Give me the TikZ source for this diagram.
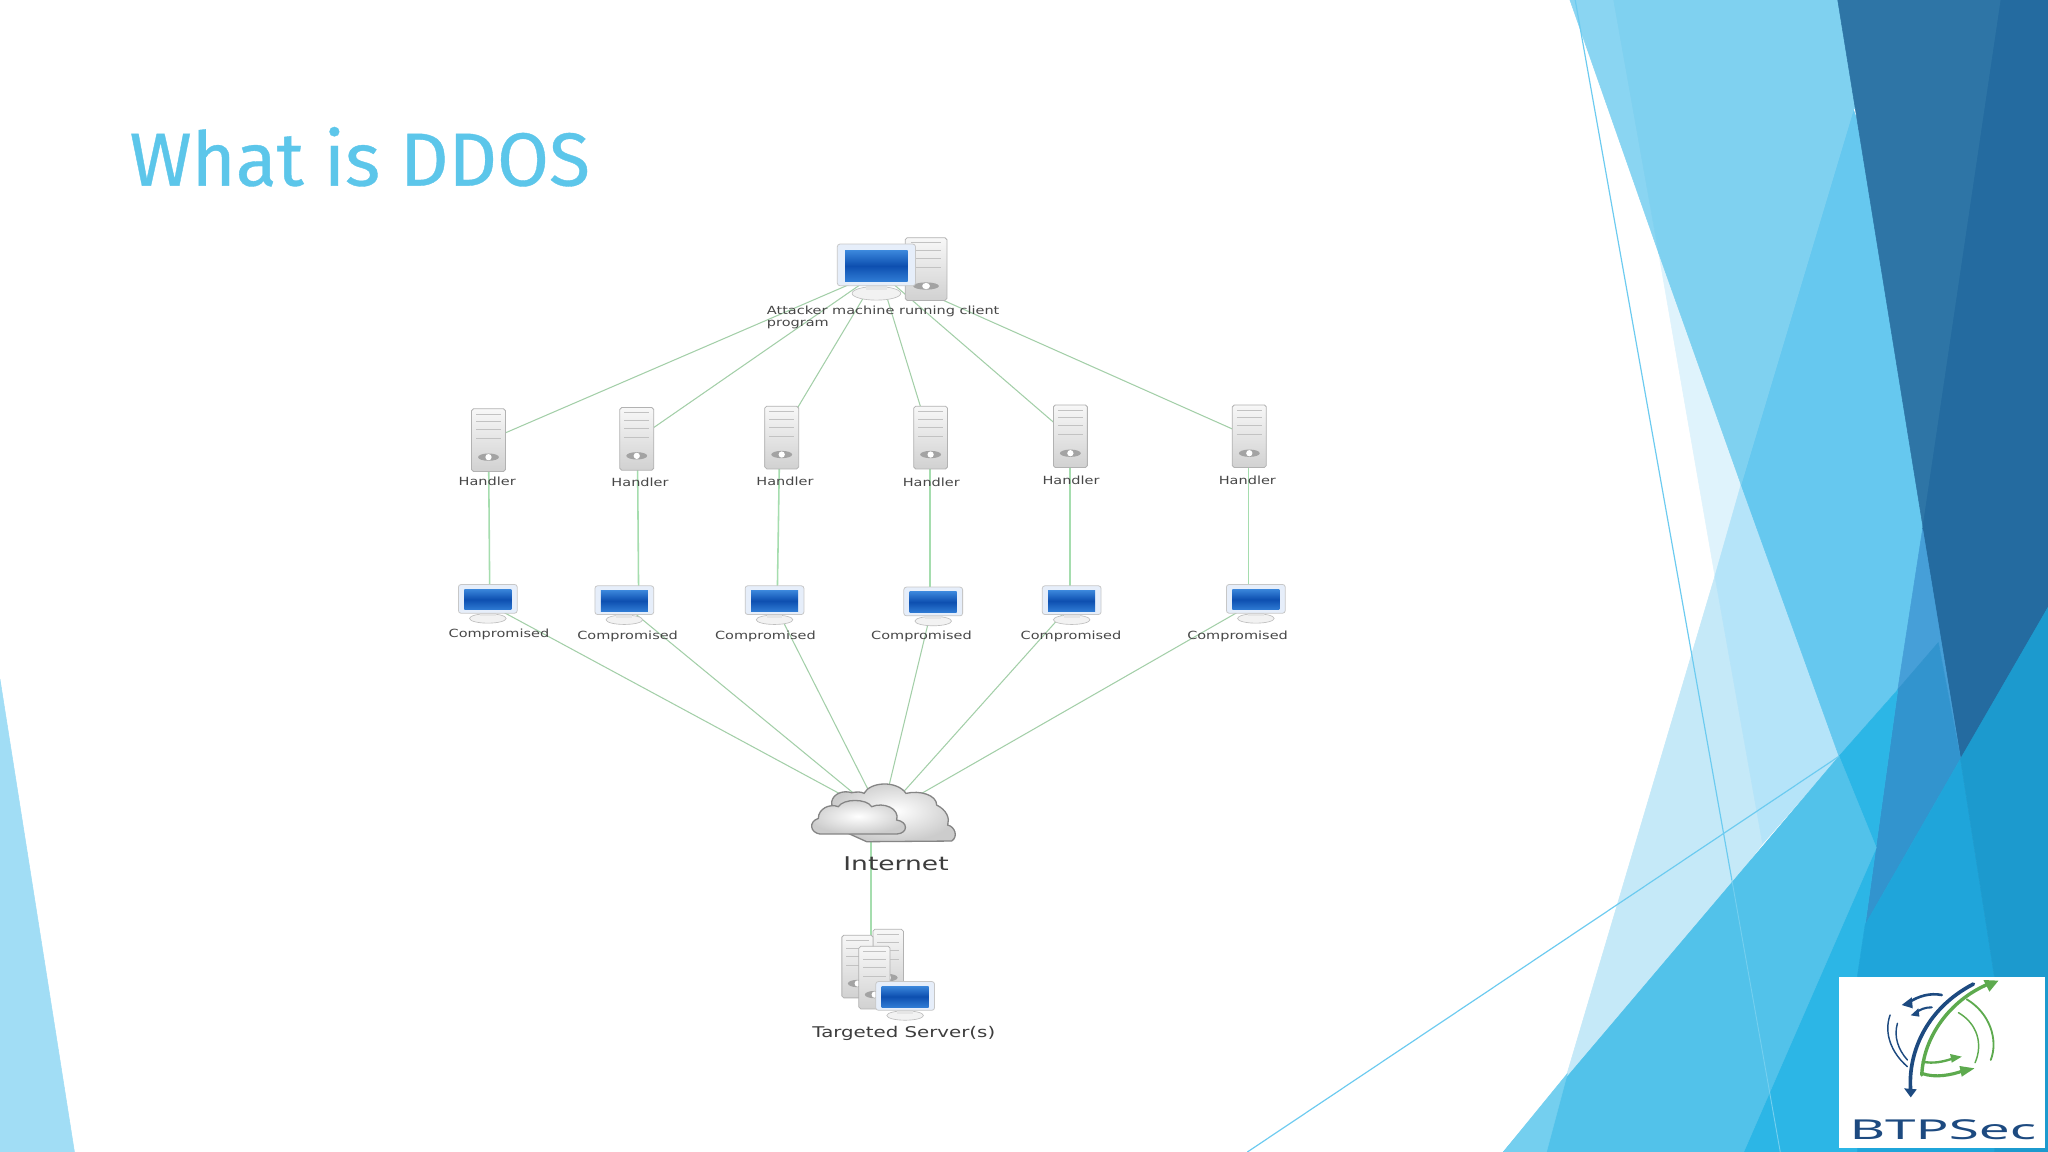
\documentclass[tikz,border=0pt]{standalone}
\usepackage{fontspec}
\usepackage{graphicx}
\usetikzlibrary{arrows.meta}
\setmainfont{DejaVu Sans}
\newfontfamily\titlefont[FakeBold=0.5]{Fira Sans}
\newfontfamily\logofont{Noto Sans}
\definecolor{wedgeA}{HTML}{7FD1F0}
\definecolor{wedgeB}{HTML}{8AD5F2}
\definecolor{wedgeC}{HTML}{66C8EF}
\definecolor{wedgeD}{HTML}{C5E9F8}
\definecolor{wedgeE}{HTML}{B5E4F9}
\definecolor{wedgeF}{HTML}{DFF3FC}
\definecolor{darkA}{HTML}{2E75A6}
\definecolor{darkB}{HTML}{246BA0}
\definecolor{midA}{HTML}{469FD8}
\definecolor{midB}{HTML}{3294CE}
\definecolor{lowA}{HTML}{52C2EA}
\definecolor{lowB}{HTML}{2CB6E6}
\definecolor{lowC}{HTML}{74CFEF}
\definecolor{lowD}{HTML}{1FA5DA}
\definecolor{lowE}{HTML}{1C9ACE}
\definecolor{thinblue}{HTML}{6CCBF0}
\definecolor{titleblue}{HTML}{5CC6EA}
\definecolor{linkgreen}{HTML}{A5DDAE}
\definecolor{linkdiag}{HTML}{A3CFA8}
\definecolor{logoblue}{HTML}{1D4A80}
\definecolor{logogreen}{HTML}{5DAA4E}
\definecolor{scrtop}{HTML}{3A86DB}
\definecolor{scrmid}{HTML}{0D4FB0}
\definecolor{scrbot}{HTML}{2F7BD4}
\definecolor{framefill}{HTML}{E6EEFA}
\newcommand{\lb}[1]{\scalebox{1.29}[1]{#1}}
\tikzset{
  facet/.style={fill=#1,draw=#1,line width=.4pt,line join=round},
  lab/.style={text=black!72,inner sep=0pt,font=\fontsize{8.6}{9.2}\selectfont},
  vlink/.style={draw=linkgreen,line width=1.2pt},
  dlink/.style={draw=linkdiag,line width=.8pt},
  thin line/.style={draw=thinblue,line width=.9pt},
  bluearc/.style={draw=logoblue,line cap=round},
  greenarc/.style={draw=logogreen,line cap=round},
  cloudfill/.style={draw=black!48,line width=1pt,inner color=white,outer color=black!20},
  monitorpic/.pic={
    \draw[draw=black!25,fill=black!5,line width=.5pt] (0,13.5) ellipse (14pt and 3.6pt);
    \fill[black!10] (-6,9) rectangle (6,12);
    \draw[draw=black!22,fill=framefill,rounded corners=2pt,line width=.6pt] (-22.5,-12.5) rectangle (22.5,9.5);
    \shade[top color=scrtop,bottom color=scrbot,middle color=scrmid] (-18,-9) rectangle (18,7);
  },
  towerpic/.pic={
    \draw[draw=black!30,top color=black!3,bottom color=black!18,rounded corners=1.5pt,line width=.6pt] (-13,-24) rectangle (13,24);
    \foreach \yy in {-20,-14,-8,-1}{\draw[black!24,line width=.8pt] (-9.5,\yy) -- (9.5,\yy);}
    \fill[black!36] (0,13) ellipse (8pt and 2.8pt);
    \fill[white] (0,13) circle (2.4pt);
  },
}
\begin{document}
\begin{tikzpicture}[x=1pt,y=-1pt]
\useasboundingbox (0,0) rectangle (1568,882);
\fill[white] (0,0) rectangle (1568,882);
% facets
\path[facet=wedgeB!80!white] (0,520) -- (0,882) -- (57,882) -- cycle;
\path[facet=wedgeF] (1270,194) -- (1333,371) -- (1313,441) -- cycle;
\path[facet=wedgeD] (1313,441) -- (1190,855) -- (1349.5,646) -- cycle;
\path[facet=wedgeE] (1333,371) -- (1313,441) -- (1349.5,646) -- (1408,579) -- cycle;
\path[facet=wedgeC] (1419,84) -- (1333,371) -- (1408,579) -- (1484,492) -- (1501,560) -- (1500,300) -- cycle;
\path[facet=wedgeB] (1202,0) -- (1236,0) -- (1270,194) -- cycle;
\path[facet=wedgeA] (1235.5,0) -- (1440,0) -- (1440,60) -- (1419,84) -- (1333,371) -- (1270,194) -- cycle;
\path[facet=darkA] (1407,0) -- (1568,0) -- (1568,465) -- (1501,581) -- cycle;
\path[facet=darkB] (1532,0) -- (1568,0) -- (1568,465) -- (1501,581) -- (1472,405) -- cycle;
\path[facet=midA] (1472,405) -- (1501,581) -- (1484,492) -- (1453,528) -- cycle;
\path[facet=midB] (1453,528) -- (1484,492) -- (1501,581) -- (1428,708) -- cycle;
\path[facet=lowB] (1408,579) -- (1453,528) -- (1428,708) -- (1422,748) -- (1422,882) -- (1335,882) -- cycle;
\path[facet=lowA] (1408,579) -- (1151,882) -- (1335,882) -- (1436.5,649) -- cycle;
\path[facet=lowC] (1151,882) -- (1184,882) -- (1200,822) -- cycle;
\path[facet=lowD] (1428,708) -- (1501,581) -- (1527,748) -- (1527,882) -- (1422,882) -- (1422,748) -- cycle;
\path[facet=lowE] (1501,581) -- (1568,465) -- (1568,882) -- (1527,882) -- (1527,748) -- cycle;
\coordinate (ta) at (1206,0);
\coordinate (tm) at (1326,674);
\coordinate (tb) at (1363,882);
\coordinate (tc) at (955,882);
\coordinate (td) at (1408,579);
\draw[thin line] (ta) -- (tm);
\draw[draw=lowC,line width=.7pt] (tm) -- (tb);
\draw[thin line] (tc) -- (td);
% title
\node[text=titleblue,anchor=west,inner sep=0pt,font=\titlefont\fontsize{57.6}{62}\selectfont] (title) at (99,120) {What is DDOS};
% graph anchors
\coordinate (attacker) at (673,208);
\coordinate (h1) at (374,337);
\coordinate (h2) at (488,336);
\coordinate (h3) at (597,335);
\coordinate (h4) at (712,335);
\coordinate (h5) at (819,334);
\coordinate (h6) at (956,334);
\coordinate (c1) at (375,462);
\coordinate (c2) at (489,463);
\coordinate (c3) at (595,463);
\coordinate (c4) at (712,463);
\coordinate (c5) at (819,463);
\coordinate (c6) at (956,461);
\coordinate (d1) at (373,462);
\coordinate (d2) at (478,463);
\coordinate (d3) at (593,463);
\coordinate (d4) at (714,463);
\coordinate (d5) at (820,463);
\coordinate (d6) at (961,461);
\coordinate (internet) at (675,625);
\coordinate (netdown) at (667,625);
\coordinate (target) at (667,740);
% connectors
\foreach \n in {1,...,6}{
  \draw[dlink] (attacker) -- (h\n);
  \draw[vlink] (h\n) -- (c\n);
  \draw[dlink] (d\n) -- (internet);
}
\draw[vlink] (netdown) -- (target);
% attacker icon
\pic[xscale=1.23] at (709,206) {towerpic};
\pic[xscale=1.33,yscale=1.45] at (671,205) {monitorpic};
% handlers
\pic at (374,337) {towerpic};
\pic at (487.5,336) {towerpic};
\pic at (598.5,335) {towerpic};
\pic at (712.5,335) {towerpic};
\pic at (819.5,334) {towerpic};
\pic at (956.5,334) {towerpic};
% compromised
\pic at (373.5,460) {monitorpic};
\pic at (478,461) {monitorpic};
\pic at (593,461) {monitorpic};
\pic at (714.5,462) {monitorpic};
\pic at (820.5,461) {monitorpic};
\pic at (961.5,460) {monitorpic};
% cloud
\begin{scope}[shift={(597.2pt,-581.9pt)},x=.2552pt,y=-.2552pt]
  \shade[cloudfill] (260,245) -- (160,200) -- (155,125) .. controls (160,100) and (190,90) .. (215,98)
    .. controls (230,95) and (245,95) .. (252,100)
    .. controls (270,65) and (350,60) .. (378,100)
    .. controls (420,90) and (470,105) .. (470,135)
    .. controls (500,150) and (510,175) .. (503,195)
    .. controls (525,200) and (535,230) .. (515,243) -- cycle;
  \shade[cloudfill] (120,222) .. controls (90,218) and (85,185) .. (115,175)
    .. controls (115,145) and (150,130) .. (175,140)
    .. controls (190,115) and (260,115) .. (275,140)
    .. controls (310,125) and (360,145) .. (350,180)
    .. controls (385,185) and (385,220) .. (350,222) -- cycle;
\end{scope}
% target icons
\pic[xscale=.9] at (680,735.5) {towerpic};
\pic[xscale=.92] at (656.5,740) {towerpic};
\pic[xscale=.92] at (669.5,748.5) {towerpic};
\pic at (693,764) {monitorpic};
% labels
\node[lab,anchor=north west] (attlab) at (587,234) {\lb{\begin{tabular}{@{}l@{}}Attacker machine running client\\[.4pt]program\end{tabular}}};
\node[lab] (l1) at (373,368.5) {\lb{Handler}};
\node[lab] (l2) at (490,369) {\lb{Handler}};
\node[lab] (l3) at (601,368.5) {\lb{Handler}};
\node[lab] (l4) at (713,369) {\lb{Handler}};
\node[lab] (l5) at (820,367.5) {\lb{Handler}};
\node[lab] (l6) at (955,367.5) {\lb{Handler}};
\node[lab] (k1) at (382,485.5) {\lb{Compromised}};
\node[lab] (k2) at (480.5,487.5) {\lb{Compromised}};
\node[lab] (k3) at (586,487.5) {\lb{Compromised}};
\node[lab] (k4) at (705.5,487) {\lb{Compromised}};
\node[lab] (k5) at (820,487.5) {\lb{Compromised}};
\node[lab] (k6) at (947.5,487.5) {\lb{Compromised}};
\node[text=black!76,inner sep=0pt,font=\fontsize{14.5}{16}\selectfont] (netlab) at (686,661) {\scalebox{1.4}[1]{Internet}};
\node[text=black!76,inner sep=0pt,font=\fontsize{11.3}{13}\selectfont] (tarlab) at (692,791.5) {\scalebox{1.34}[1]{Targeted Server(s)}};
% logo
\fill[white] (1408,748) rectangle (1566,879);
\begin{scope}[shift={(1393.5pt,-735pt)},x=.2552pt,y=-.2552pt]
  \draw[bluearc,line width=1.1pt] (262,320) .. controls (215,280) and (190,220) .. (210,165);
  \draw[bluearc,line width=1.1pt] (262,300) .. controls (235,270) and (220,230) .. (232,190);
  \draw[bluearc,line width=2.8pt] (272,395) .. controls (262,290) and (310,150) .. (460,72);
  \fill[logoblue] (252,385) -- (290,388) -- (272,412) -- cycle;
  \draw[bluearc,line width=2pt] (365,105) .. controls (330,98) and (295,108) .. (265,128);
  \fill[logoblue] (245,135) -- (275,112) -- (278,145) -- cycle;
  \draw[bluearc,line width=1.6pt] (335,142) .. controls (315,142) and (300,148) .. (288,158);
  \fill[logoblue] (272,166) -- (295,145) -- (298,170) -- cycle;
  \draw[greenarc,line width=2.6pt] (305,345) .. controls (310,230) and (390,120) .. (505,72);
  \fill[logogreen] (490,60) -- (535,62) -- (508,95) -- cycle;
  \draw[greenarc,line width=1.4pt] (440,118) .. controls (510,160) and (535,240) .. (512,300);
  \draw[greenarc,line width=1.1pt] (415,158) .. controls (470,190) and (490,250) .. (465,308);
  \draw[greenarc,line width=1.8pt] (308,305) .. controls (340,312) and (370,305) .. (400,295);
  \fill[logogreen] (390,282) -- (425,290) -- (395,308) -- cycle;
  \draw[greenarc,line width=2.4pt] (305,340) .. controls (345,355) and (395,345) .. (430,332);
  \fill[logogreen] (418,318) -- (463,325) -- (425,350) -- cycle;
\end{scope}
\node[text=logoblue,inner sep=0pt] (logotext) at (1487.5,865) {\scalebox{2}[1]{\logofont\fontsize{21}{22}\selectfont BTPSec}};
\end{tikzpicture}
\end{document}
